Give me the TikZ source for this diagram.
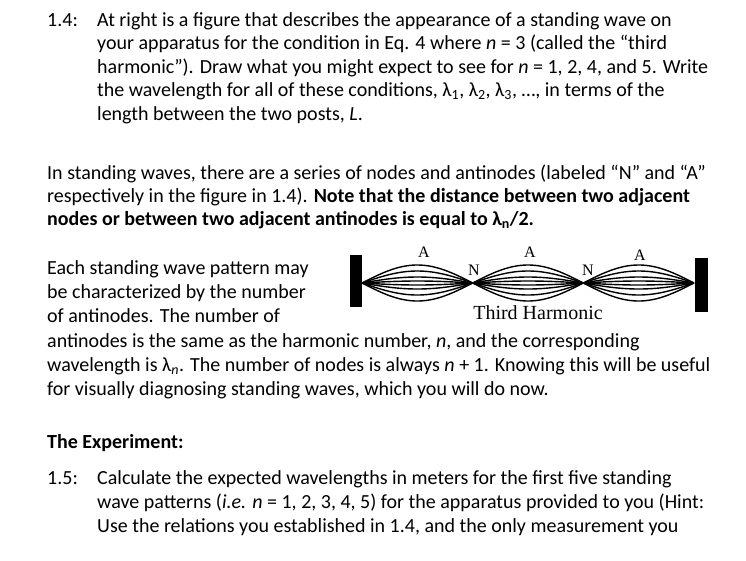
\documentclass[tikz,border=0pt]{standalone}
\usepackage{fontspec}
\setmainfont{Carlito}
\newfontfamily\serf{Liberation Serif}
\begin{document}
\begin{tikzpicture}[x=1pt,y=1pt,
  tl/.style={anchor=base west,inner sep=0pt,font=\fontsize{20}{24}\selectfont},
  lab/.style={inner sep=0pt,font=\serf\fontsize{16}{17}\selectfont},
  wv/.style={line width=1.4pt}]
\useasboundingbox (0,0) rectangle (746,-560);
% paragraph 1.4
\node[tl] (n1) at (47,-26) {1.4:};
\node[tl] (l1) at (97,-26) {At right is a figure that describes the appearance of a standing wave on};
\node[tl] (l2) at (97,-49.5) {your apparatus for the condition in Eq. 4 where \textit{n} = 3 (called the “third};
\node[tl] (l3) at (97,-73) {harmonic”). Draw what you might expect to see for \textit{n} = 1, 2, 4, and 5. Write};
\node[tl] (l4) at (97,-96.5) {the wavelength for all of these conditions, λ\textsubscript{1}, λ\textsubscript{2}, λ\textsubscript{3}, …, in terms of the};
\node[tl] (l5) at (97,-120) {length between the two posts, \textit{L}.};
% paragraph 2
\node[tl] (p1) at (47,-179) {In standing waves, there are a series of nodes and antinodes (labeled “N” and “A”};
\node[tl] (p2) at (47,-202) {respectively in the figure in 1.4). \textbf{Note that the distance between two adjacent}};
\node[tl] (p3) at (47,-225) {\textbf{nodes or between two adjacent antinodes is equal to λ\textsubscript{n}/2.}};
% paragraph 3
\node[tl] (q1) at (47,-274) {Each standing wave pattern may};
\node[tl] (q2) at (47,-298) {be characterized by the number};
\node[tl] (q3) at (47,-322) {of antinodes. The number of};
\node[tl] (q4) at (47,-347) {antinodes is the same as the harmonic number, \textit{n}, and the corresponding};
\node[tl] (q5) at (47,-371) {wavelength is λ\textsubscript{\textit{n}}. The number of nodes is always \textit{n} + 1. Knowing this will be useful};
\node[tl] (q6) at (47,-395) {for visually diagnosing standing waves, which you will do now.};
% experiment
\node[tl] (e0) at (47,-448) {\textbf{The Experiment:}};
\node[tl] (m1) at (47,-484) {1.5:};
\node[tl] (e1) at (97,-484) {Calculate the expected wavelengths in meters for the first five standing};
\node[tl] (e2) at (97,-508) {wave patterns (\textit{i.e. n} = 1, 2, 3, 4, 5) for the apparatus provided to you (Hint:};
\node[tl] (e3) at (97,-532) {Use the relations you established in 1.4, and the only measurement you};
% figure
\fill (350,-255) rectangle (362,-307);
\fill (695,-258) rectangle (708,-312);
\foreach \a in {18,12,6,2,-2,-6,-12,-18}{
  \draw[wv,shift={(362,-283)},domain=0:3,samples=120,smooth] plot ({\x*110.67},{\a*sin(180*\x)});
}
\node[lab] (A1) at (424,-252) {A};
\node[lab] (A2) at (530,-252) {A};
\node[lab] (A3) at (640,-255) {A};
\node[lab] (N1) at (474,-270) {N};
\node[lab] (N2) at (588,-270) {N};
\node[lab,font=\serf\fontsize{20}{21}\selectfont] (T) at (538,-313) {Third Harmonic};
\end{tikzpicture}
\end{document}
